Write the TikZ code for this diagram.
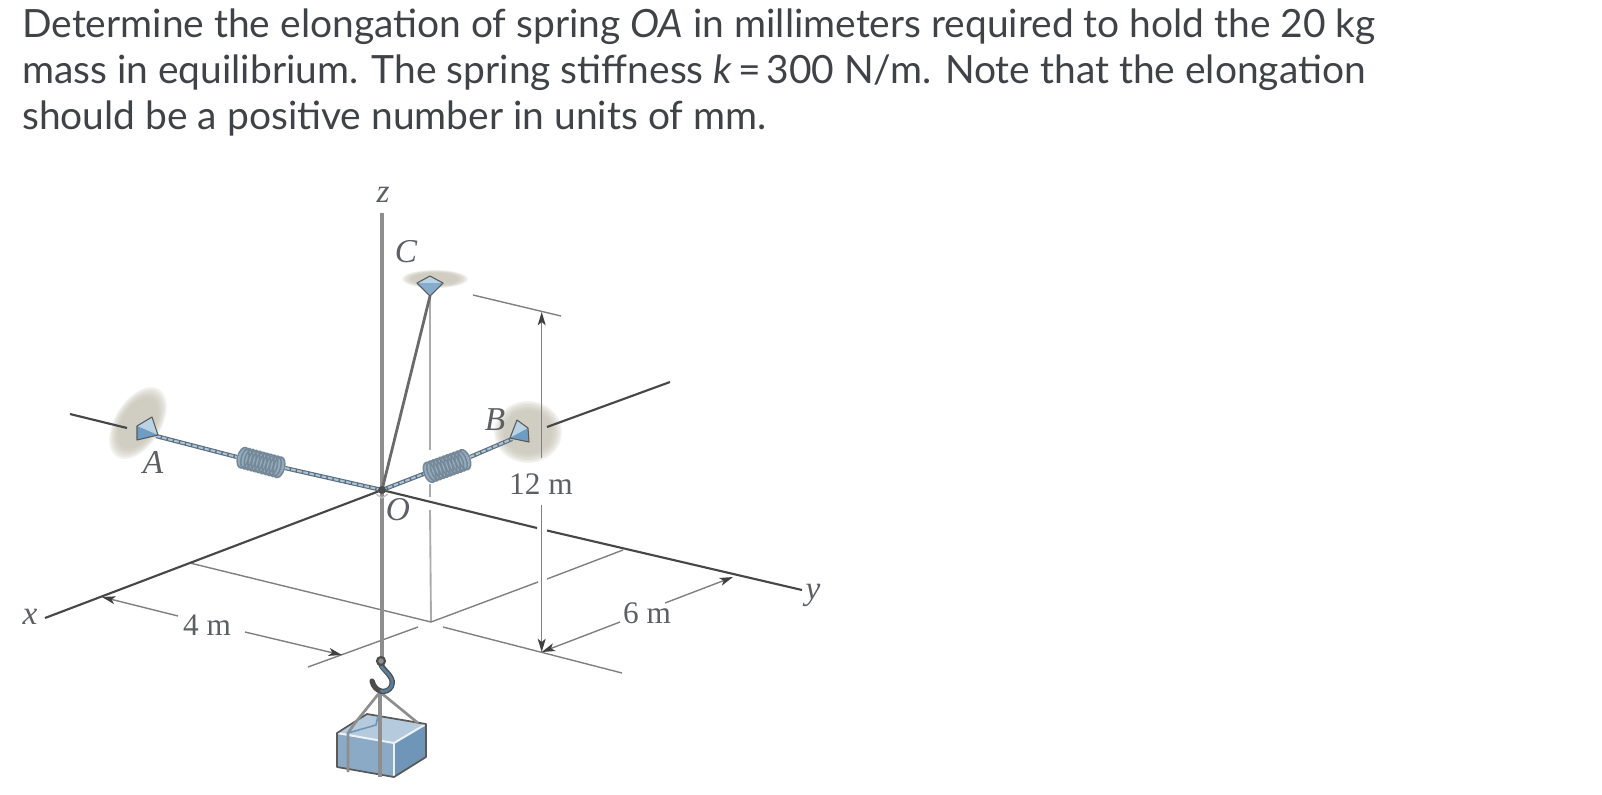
\documentclass[tikz,border=0pt]{standalone}
\usepackage{fontspec}
\setmainfont{Lato}
\newfontfamily\figfont{Liberation Serif}
\usetikzlibrary{arrows.meta}
\definecolor{txt}{HTML}{3F4347}
\definecolor{axisc}{HTML}{474747}
\definecolor{zc}{HTML}{8E8E8E}
\definecolor{dimc}{HTML}{808080}
\definecolor{vc}{HTML}{ABABAB}
\definecolor{shadowc}{HTML}{C4C0B2}
\definecolor{blueA}{HTML}{6F9CC2}
\definecolor{blueB}{HTML}{B9D2E4}
\definecolor{boxF}{HTML}{8BAAC6}
\definecolor{boxR}{HTML}{6F96B8}
\definecolor{boxT}{HTML}{B5CADC}
\definecolor{wire}{HTML}{5F6E7C}
\definecolor{wireL}{HTML}{A9C5DA}
\tikzset{
 x=.75pt,y=-.75pt,
 qline/.style={font=\fontsize{29.2}{35}\selectfont,text=txt,anchor=base west,inner sep=0pt},
 fig/.style={font=\figfont\fontsize{23.5}{28}\selectfont,text=txt!85!white,inner sep=0pt},
 figi/.style={font=\figfont\itshape\fontsize{25}{28}\selectfont,text=txt!85!white,inner sep=0pt},
 axisl/.style={draw=axisc,line width=1.6pt},
 zl/.style={draw=zc,line width=2.4pt},
 dimL/.style={draw=dimc,line width=1.05pt},
 vl/.style={draw=vc,line width=1.4pt},
 tip/.style={-{Stealth[length=10pt,width=6pt,inset=2.5pt,color=black!75]}},
 rope/.style={draw=wire,line width=3.2pt},
 ropeI/.style={draw=wireL,line width=1.5pt,dash pattern=on 3.5pt off 1.2pt},
 coilr/.style={draw=wire!70!wireL,line width=1.2pt},
 sling/.style={draw=zc,line width=2pt},
 edge/.style={draw=black!65,line width=1.3pt,line join=round},
}
\begin{document}
\begin{tikzpicture}
\useasboundingbox (0,0) rectangle (1602,794);
% question
\node[qline] (q1) at (22,37) {Determine the elongation of spring \textit{OA} in millimeters required to hold the 20 kg};
\node[qline] (q2) at (22,83) {mass in equilibrium. The spring stiffness \textit{k}\hspace{.15em}=\hspace{.15em}300 N/m. Note that the elongation};
\node[qline] (q3) at (22,129) {should be a positive number in units of mm.};
% points
\coordinate (O) at (382,490);
\coordinate (C) at (430,296);
\coordinate (A) at (156,436);
\coordinate (B) at (512,439);
\coordinate (Ztop) at (382,213);
\coordinate (Zbot) at (382,660);
\coordinate (Xend) at (45,618);
\coordinate (Yend) at (802,590);
\coordinate (Yg1) at (537,528);
\coordinate (Yg2) at (547,530.5);
\coordinate (F) at (431,622);
% shadows
\foreach \s in {1,.95,.9,.85,.8,.75,.7}{
 \fill[shadowc,opacity=.2,shift={(138,423)},rotate=58] (0,0) ellipse [x radius=40*\s,y radius=23*\s];
 \fill[shadowc,opacity=.2] (528,432) ellipse [x radius=34*\s,y radius=31*\s];
 \fill[shadowc,opacity=.2] (435,279) ellipse [x radius=33*\s,y radius=9*\s];
}
% thin construction lines
\draw[vl] (430,296) -- (430,450);
\draw[vl] (430,484) -- (430,497);
\draw[vl] (430,510) -- (F);
\draw[dimL] (190,563) -- (F);
\draw[dimL] (623,550) -- (547,579);
\draw[dimL] (538,582) -- (F);
\draw[dimL] (418,627) -- (308,667);
\draw[dimL] (443,627) -- (622,673);
\draw[dimL] (473,295) -- (561,316);
% axes
\draw[axisl] (70,414) -- (127,428);
\draw[axisl] (547,427) -- (670,382);
\draw[axisl] (O) -- (Xend);
\draw[axisl] (O) -- (Yg1);
\draw[axisl] (Yg2) -- (Yend);
\draw[zl] (Ztop) -- (Zbot);
% dimensions
\node[fig] (d12) at (541,484) {12 m};
\node[fig] (d4) at (207,625) {4 m};
\node[fig] (d6) at (647,613) {6 m};
\coordinate (t12) at (541.7,312); \coordinate (b12) at (541.7,652);
\draw[dimL,tip] (541.7,458) -- (t12);
\draw[dimL,tip] (541.7,505) -- (b12);
\draw[dimL,tip] (178,616) -- (102,597);
\draw[dimL,tip] (245,632) -- (342,655);
\draw[dimL,tip] (620,622) -- (b12);
\draw[dimL,tip] (665,603) -- (733,577);
% cable OC
\draw[draw=zc!75!black,line width=2.1pt] (O) -- (C);
% springs
\draw[rope] (A) -- (237,457) (285,468) -- (O);
\draw[ropeI] (A) -- (237,457) (285,468) -- (O);
\draw[rope] (O) -- (426,473) (470,457) -- (B);
\draw[ropeI] (O) -- (426,473) (470,457) -- (B);
\begin{scope}[shift={(261,462.5)},rotate=-15]
 \fill[wireL!70!wire,rounded corners=3pt] (-23,-10) rectangle (23,10);
 \foreach \i in {-5,...,5} \draw[coilr] (\i*3.7,0) ellipse [x radius=5.5,y radius=10.5];
\end{scope}
\begin{scope}[shift={(447,466)},rotate=20]
 \fill[wireL!70!wire,rounded corners=3pt] (-23,-10) rectangle (23,10);
 \foreach \i in {-5,...,5} \draw[coilr] (\i*3.7,0) ellipse [x radius=5.5,y radius=10.5];
\end{scope}
% O joint
\fill[black!70] (O) circle [radius=4];
\draw[black!25,line width=1pt] (376,494) -- (382,498) -- (388,494);
% anchors
\fill[blueB] (137,426) -- (152,417) -- (158,435) -- (137,440) -- cycle;
\fill[blueA] (137,426) -- (158,435) -- (137,440) -- cycle;
\draw[edge,line width=.8pt] (137,426) -- (152,417) -- (158,435) -- (137,440) -- cycle;
\fill[blueB] (517,420) -- (528,428) -- (529,442) -- (510,438) -- cycle;
\fill[blueA] (528,428) -- (529,442) -- (510,438) -- cycle;
\draw[edge,line width=.8pt] (517,420) -- (528,428) -- (529,442) -- (510,438) -- cycle;
\fill[blueB] (417,283) -- (430,276) -- (443,283) -- (430,296) -- cycle;
\fill[blueA!70!blueB] (417,283) -- (443,283) -- (430,296) -- cycle;
\draw[edge,line width=.8pt] (417,283) -- (430,276) -- (443,283) -- (430,296) -- cycle;
% labels
\node[figi] (lz) at (383,195) {z};
\node[figi] (lC) at (406,252) {C};
\node[figi] (lA) at (153,462) {A};
\node[figi] (lB) at (495,420) {B};
\node[figi] (lO) at (398,510) {O};
\node[figi] (lx) at (30,617) {x};
\node[figi] (ly) at (813,595) {y};
% load: box
\coordinate (K) at (380,692);
\fill[boxT] (337,733) -- (367,714) -- (426,724) -- (394,743) -- cycle;
\fill[boxF] (337,733) -- (394,743) -- (394,777) -- (337,767) -- cycle;
\fill[boxR] (394,743) -- (426,724) -- (426,757) -- (394,777) -- cycle;
\draw[white!75!boxT,line width=1.5pt] (337,733) -- (394,743) -- (426,724);
\draw[white!75!boxT,line width=1.5pt] (394,743) -- (394,777);
\draw[edge] (337,733) -- (367,714) -- (426,724) -- (426,757) -- (394,777) -- (337,767) -- cycle;
% slings
\draw[sling] (K) -- (355,723) -- (348,733) -- (348,772);
\draw[sling] (K) -- (418,723);
\draw[sling,line width=2.4pt] (K) -- (380,777);
\draw[draw=boxR,line width=1.2pt] (348,733) -- (376,725) -- (378,716);
% hook
\draw[black!70,line width=4pt,line cap=round] (381,665) .. controls (385,672) and (396,678) .. (391,687) .. controls (387,694) and (375,693) .. (372,681);
\draw[blueA!80!black,line width=2.2pt,line cap=round] (381,666) .. controls (385,672) and (396,678) .. (391,687) .. controls (388,691) and (384,692) .. (381,691);
\draw[black!70,line width=1.6pt,fill=zc] (381,661) circle [radius=4];
\end{tikzpicture}
\end{document}
